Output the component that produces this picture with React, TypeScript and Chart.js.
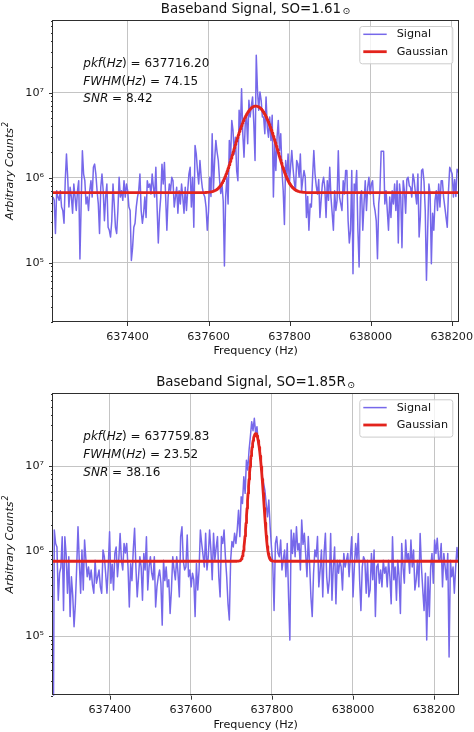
import React, { useEffect, useRef } from 'react';
import { Chart, registerables } from 'chart.js';

Chart.register(...registerables);

const FONT = '"DejaVu Sans", "Liberation Sans", sans-serif';

// Gaussian fit results for the two solar-offset observations
const pkfTop = 637716.2;
const fwhmTop = 74.15;
const snrTop = 8.42;
const baseTop = 6.65e5;
const peakTop = 6.95e6;

const pkfBot = 637759.83;
const fwhmBot = 23.52;
const snrBot = 38.16;
const baseBot = 7.6e5;
const peakBot = 2.4e7;

// frequency window centred on each fitted peak (Hz)
const spanHz = 1000;
const xTicks = [637400, 637600, 637800, 638000, 638200];
const yMajor = [1e5, 1e6, 1e7];
const yMin = 2.0e4;
const yMax = 7.15e7;

// baseband power spectra, in units of 1e5 counts^2, evenly spaced over the window
const signalTop = [
  5.9, 5.4, 2.2, 7.0, 5.9, 5.4, 7.0, 4.5, 4.1, 2.9,
  9.2, 18.9, 10.1, 4.5, 7.7, 5.9, 3.8, 8.4, 5.9, 4.1,
  7.0, 9.2, 1.1, 4.9, 20.7, 11.0, 9.2, 4.9, 5.9, 4.1,
  7.0, 9.2, 5.9, 13.2, 14.4, 11.0, 7.0, 4.9, 2.2, 7.7,
  11.0, 7.0, 3.1, 5.9, 8.4, 2.6, 2.4, 2.0, 3.1, 8.4,
  4.9, 2.6, 2.2, 4.1, 10.1, 5.9, 7.0, 5.4, 9.2, 5.9,
  8.4, 7.0, 4.5, 4.1, 1.06, 1.5, 2.6, 2.9, 4.5, 5.9,
  7.0, 11.0, 4.1, 2.9, 3.8, 5.9, 3.4, 9.2, 7.7, 8.4,
  6.4, 11.0, 7.7, 5.9, 13.2, 4.5, 1.7, 3.8, 5.9, 14.4,
  8.4, 15.1, 5.9, 2.4, 5.9, 8.4, 7.0, 10.1, 9.2, 4.5,
  5.9, 7.7, 3.8, 7.0, 4.9, 8.4, 5.9, 3.8, 7.7, 4.1,
  7.0, 11.0, 13.2, 4.5, 10.1, 2.6, 23.9, 19.0, 12.0, 8.4,
  15.9, 10.1, 7.5, 6.4, 5.9, 4.5, 2.4, 4.0, 10.1, 6.0,
  32.8, 7.0, 15.9, 27.4, 20.0, 15.9, 9.5, 6.5, 8.4, 5.3,
  0.91, 5.9, 10.1, 4.9, 27.4, 15.9, 47.1, 35.9, 19.0, 29.9,
  12.1, 9.2, 61.9, 35.9, 111, 32.8, 17.4, 43.0, 51.6, 25.0,
  81.1, 51.6, 70.0, 88.9, 43.0, 15.9, 276, 106.6, 61.9, 101.8,
  81.1, 51.6, 51.6, 32.8, 88.9, 39.3, 29.9, 51.6, 27.4, 54.0,
  5.9, 25.0, 12.1, 30.0, 47.1, 20.8, 32.8, 12.0, 7.0, 2.8,
  15.9, 10.1, 19.0, 8.4, 13.2, 20.8, 13.0, 9.0, 7.0, 15.9,
  14.5, 10.1, 19.0, 7.0, 9.5, 12.1, 10.1, 3.4, 6.0, 2.4,
  4.9, 4.5, 10.1, 20.8, 11.0, 8.0, 6.4, 9.5, 3.4, 5.5,
  8.5, 10.1, 7.5,
  3.4, 9.2, 5.4, 13.2, 5.9, 3.8, 2.4, 7.0, 4.1, 5.4,
  20.7, 5.9, 4.9, 4.1, 9.2, 6.4, 12.1, 12.1, 3.1, 1.7,
  2.4, 12.1, 0.74, 8.4, 7.0, 12.1, 2.4, 0.89, 5.9, 7.0,
  2.4, 4.9, 9.2, 4.1, 7.7, 10.1, 6.4, 8.4, 9.2, 4.9,
  4.1, 3.1, 1.11, 4.9, 7.0, 20.4, 20.4, 20.4, 4.9, 7.0,
  4.1, 2.4, 5.9, 3.4, 7.0, 4.9, 8.4, 4.1, 9.2, 1.7,
  8.4, 5.9, 1.5, 9.2, 7.0, 3.8, 9.6, 10.1, 8.0, 7.7, 5.9,
  11.0, 9.2, 6.5, 4.9, 11.0, 2.0, 3.4, 12.1, 12.6, 9.0, 4.1, 0.62,
  2.4, 8.4, 6.4, 0.97, 3.8, 2.4, 5.4, 7.0, 4.1, 8.4,
  4.5, 9.2, 9.2, 5.9, 4.5, 3.4, 2.6, 7.0, 13.2, 12.1,
  11.0, 5.9, 9.5, 6.0, 12.5, 11.5,
];

const signalBot = [
  0.01,
  17.7, 12.3, 11.2, 2.65, 5.5, 6.5, 14.7, 2.0, 14.7, 9.0,
  3.2, 8.6, 1.7, 5.0, 3.0, 1.29, 2.4, 6.5, 19.3, 7.5,
  3.2, 10.3, 3.5, 13.5, 8.0, 5.0, 6.5, 4.6, 6.0, 4.0,
  3.2, 7.8, 4.2, 5.0, 6.0, 3.8, 3.2, 10.3, 8.6, 5.5,
  3.2, 6.5, 16.9, 4.2, 7.0, 3.5, 9.4, 11.2, 5.0, 8.0,
  16.1, 7.8, 6.0, 12.3, 9.5, 12.3, 6.5, 2.2, 7.1, 4.5,
  10.3, 18.5, 6.5, 2.9, 5.0, 8.6, 6.5, 2.65, 9.4, 6.0,
  14.7, 3.5, 6.5, 8.6, 5.5, 4.6, 8.6, 2.2, 3.8, 5.0,
  6.0, 4.2, 1.35, 7.8, 4.5, 6.5, 3.8, 4.6, 1.85, 3.5,
  8.6, 6.0, 4.6, 8.6, 5.5, 2.9, 14.7, 19.3, 7.8, 6.0,
  6.5, 15.5, 5.0, 6.0, 3.8, 5.5, 4.6, 1.7, 7.15, 3.5,
  6.0, 17.7, 12.3, 9.0, 6.5, 16.2, 6.0, 8.6, 17.7, 10.3,
  4.6, 16.2, 7.8, 11.0, 14.8, 5.0, 2.9, 14.8, 12.3, 17.7,
  8.6, 5.0, 2.4, 1.55, 7.8, 13.0, 11.2, 16.2, 12.3, 17.7,
  30.3, 14.8, 43.5, 36.3, 74.9, 47.7, 117, 89.6, 154, 222,
  332, 260, 364, 242, 290, 185, 154, 107, 74.9, 62.5,
  52, 36.3, 25.3, 39.8, 19.3, 11.2, 7.15, 2.0, 12.3, 14.8,
  9.5, 8.6, 13.5, 6.0, 8.0, 10.3, 5.0, 12.3, 2.9, 0.9,
  17.7, 9.4, 16.2, 8.6, 19.3, 10.3, 12.3, 6.0, 23.2, 12.0,
  16.2, 9.4, 5.0, 14.8, 7.15, 2.9, 1.7, 5.5, 10.3, 8.6,
  14.8, 3.8, 6.0, 10.3, 2.9, 9.4, 16.2,
  5.0, 3.2, 4.6, 16.1, 2.65, 6.5, 11.2, 2.4, 7.8, 5.5,
  7.8, 6.5, 3.5, 9.4, 6.5, 7.8, 9.4, 5.0, 8.6, 14.7,
  2.9, 6.5, 12.3, 7.8, 16.1, 4.6, 2.0, 6.5, 8.6, 7.8,
  3.2, 7.8, 2.9, 3.5, 9.4, 4.6, 10.3, 1.7, 6.5, 7.1,
  4.2, 6.0, 3.8, 7.8, 5.5, 6.5, 3.8, 7.8, 5.0, 2.4,
  14.7, 4.6, 6.5, 2.65, 7.8, 5.0, 1.85, 12.3, 6.5, 4.2,
  13.5, 7.8, 9.4, 5.5, 13.5, 6.5, 10.3, 3.5, 4.6, 7.8,
  3.8, 16.1, 6.5, 3.5, 2.0, 5.5, 0.9, 5.0, 1.7, 6.5,
  9.4, 4.2, 13.5, 9.4, 14.2, 8.0, 7.8, 12.3, 3.8, 9.4,
  6.5, 4.6, 9.4, 0.57, 7.8, 5.0, 6.5, 3.2, 6.5, 11.0,
  7.5,
];

const UNIT = 1e5;
const SIGNAL_COLOR = 'rgb(118,104,234)';
const FIT_COLOR = '#e3231c';
const SUP: Record<number, string> = { 4: '\u2074', 5: '\u2075', 6: '\u2076', 7: '\u2077' };

type PanelProps = {
  signal: number[];
  pkf: number;
  fwhm: number;
  snr: number;
  base: number;
  peak: number;
  titleMain: string;
  canvasTop: number;
  plotTop: number;
  axisH: number;
};

function spectrumPoints(signal: number[], lo: number) {
  const step = spanHz / (signal.length - 1);
  return signal.map((v, i) => ({ x: lo + i * step, y: v * UNIT }));
}

function gaussianPoints(pkf: number, fwhm: number, base: number, peak: number, lo: number) {
  const n = 800;
  const pts: { x: number; y: number }[] = [];
  for (let i = 0; i <= n; i++) {
    const f = lo + (i * spanHz) / n;
    const d = f - pkf;
    pts.push({ x: f, y: base + (peak - base) * Math.exp((-4 * Math.LN2 * d * d) / (fwhm * fwhm)) });
  }
  return pts;
}

function drawMixed(ctx: CanvasRenderingContext2D, parts: [string, boolean][], x: number, y: number, size: number) {
  let cx = x;
  for (const [txt, ital] of parts) {
    ctx.font = `${ital ? 'italic ' : ''}${size}px ${FONT}`;
    ctx.fillText(txt, cx, y);
    cx += ctx.measureText(txt).width;
  }
}

function SpectrumPanel(props: PanelProps) {
  const ref = useRef<HTMLCanvasElement | null>(null);

  useEffect(() => {
    const canvas = ref.current;
    if (!canvas) return;
    const { signal, pkf, fwhm, snr, base, peak, titleMain, plotTop, axisH } = props;
    const lo = pkf - spanHz / 2;
    const hi = pkf + spanHz / 2;

    const decor = {
      id: 'decor',
      afterDraw(chart: Chart) {
        const ctx = chart.ctx;
        const ca = chart.chartArea;
        const xs = chart.scales.x;
        const ys = chart.scales.y;
        ctx.save();

        // tick marks
        ctx.strokeStyle = '#333';
        ctx.lineWidth = 1;
        ctx.beginPath();
        for (const v of xTicks) {
          const px = Math.round(xs.getPixelForValue(v)) + 0.5;
          ctx.moveTo(px, ca.bottom);
          ctx.lineTo(px, ca.bottom + 4);
        }
        for (let e = 4; e <= 7; e++) {
          for (let k = 1; k <= 9; k++) {
            const v = k * Math.pow(10, e);
            if (v < yMin || v > yMax) continue;
            const py = Math.round(ys.getPixelForValue(v)) + 0.5;
            ctx.moveTo(ca.left - (k === 1 ? 4 : 2), py);
            ctx.lineTo(ca.left, py);
          }
        }
        ctx.stroke();

        // axes frame
        ctx.strokeStyle = '#2e2e2e';
        ctx.strokeRect(Math.round(ca.left) - 0.5, Math.round(ca.top) + 0.5,
          Math.round(ca.right - ca.left) + 1, Math.round(ca.bottom - ca.top) - 1);

        ctx.fillStyle = '#111';
        ctx.textAlign = 'left';
        ctx.textBaseline = 'alphabetic';

        // title with solar-radius subscript
        const cxm = (ca.left + ca.right) / 2;
        ctx.font = `13.4px ${FONT}`;
        const wMain = ctx.measureText(titleMain).width;
        ctx.font = `9.4px ${FONT}`;
        const wSub = ctx.measureText('\u2299').width;
        const x0 = cxm - (wMain + 1.5 + wSub) / 2;
        ctx.font = `13.4px ${FONT}`;
        ctx.fillText(titleMain, x0, ca.top - 7);
        ctx.font = `9.4px ${FONT}`;
        ctx.textBaseline = 'middle';
        ctx.fillText('\u2299', x0 + wMain + 1.5, ca.top - 8);
        ctx.textBaseline = 'alphabetic';

        // fit annotations
        const ax = ca.left + 30.3;
        drawMixed(ctx, [['pkf', true], ['(', false], ['Hz', true], [')', false], [' = ' + pkf.toFixed(2), false]], ax, ca.top + 47, 12);
        drawMixed(ctx, [['FWHM', true], ['(', false], ['Hz', true], [')', false], [' = ' + fwhm.toFixed(2), false]], ax, ca.top + 64.7, 12);
        drawMixed(ctx, [['SNR', true], [' = ' + snr.toFixed(2), false]], ax, ca.top + 82.2, 12);

        // x axis title
        ctx.font = `11.2px ${FONT}`;
        ctx.textAlign = 'center';
        ctx.fillText('Frequency (Hz)', cxm, ca.bottom + 31.9);

        // y axis title
        ctx.save();
        ctx.translate(12.7, (ca.top + ca.bottom) / 2);
        ctx.rotate(-Math.PI / 2);
        ctx.textAlign = 'left';
        ctx.font = `italic 11.2px ${FONT}`;
        const yl = 'Arbitrary Counts';
        const w1 = ctx.measureText(yl).width;
        ctx.font = `italic 8px ${FONT}`;
        const w2 = ctx.measureText('2').width;
        const sx = -(w1 + 0.8 + w2) / 2;
        ctx.font = `italic 11.2px ${FONT}`;
        ctx.fillText(yl, sx, 0);
        ctx.font = `italic 8px ${FONT}`;
        ctx.fillText('2', sx + w1 + 0.8, -4.6);
        ctx.restore();

        // legend
        const bw = 93;
        const bh = 37.3;
        const bx = ca.right - 6 - bw;
        const by = ca.top + 6;
        ctx.beginPath();
        ctx.roundRect(bx + 0.5, by + 0.5, bw, bh, 2.5);
        ctx.fillStyle = 'rgba(255,255,255,0.8)';
        ctx.fill();
        ctx.strokeStyle = '#cccccc';
        ctx.lineWidth = 1;
        ctx.stroke();
        const rows: [string, string, number][] = [
          ['Signal', SIGNAL_COLOR, 1.5],
          ['Gaussian', FIT_COLOR, 2.8],
        ];
        rows.forEach(([label, color, lw], i) => {
          const ry = by + 8.3 + i * 17.4;
          ctx.beginPath();
          ctx.strokeStyle = color;
          ctx.lineWidth = lw;
          ctx.moveTo(bx + 4, ry);
          ctx.lineTo(bx + 27.4, ry);
          ctx.stroke();
          ctx.fillStyle = '#111';
          ctx.font = `11.2px ${FONT}`;
          ctx.textAlign = 'left';
          ctx.textBaseline = 'middle';
          ctx.fillText(label, bx + 37.4, ry);
        });

        ctx.restore();
      },
    };

    const chart = new Chart(canvas, {
      type: 'line',
      data: {
        datasets: [
          {
            label: 'Gaussian',
            data: gaussianPoints(pkf, fwhm, base, peak, lo),
            borderColor: FIT_COLOR,
            borderWidth: 2.8,
            pointRadius: 0,
            tension: 0,
            fill: false,
            borderJoinStyle: 'round',
          },
          {
            label: 'Signal',
            data: spectrumPoints(signal, lo),
            borderColor: SIGNAL_COLOR,
            borderWidth: 1.5,
            pointRadius: 0,
            tension: 0,
            fill: false,
            borderJoinStyle: 'round',
          },
        ],
      },
      options: {
        responsive: false,
        devicePixelRatio: 1,
        animation: false,
        events: [],
        layout: { padding: { left: 0, right: 15.7, top: plotTop, bottom: 0 } },
        plugins: {
          legend: { display: false },
          tooltip: { enabled: false },
          title: { display: false },
        },
        scales: {
          x: {
            type: 'linear',
            min: lo,
            max: hi,
            bounds: 'data',
            afterBuildTicks: (s: any) => {
              s.ticks = xTicks.map((v) => ({ value: v }));
            },
            afterFit: (s: any) => {
              s.height = axisH;
              s.paddingLeft = 0;
              s.paddingRight = 0;
            },
            grid: { color: '#c4c4c4', lineWidth: 1, drawTicks: false },
            border: { display: false },
            ticks: {
              color: '#1a1a1a',
              font: { family: FONT, size: 11.2 },
              padding: 8,
              maxRotation: 0,
              autoSkip: false,
              callback: (v: any) => String(v),
            },
          },
          y: {
            type: 'logarithmic',
            min: yMin,
            max: yMax,
            bounds: 'data',
            afterBuildTicks: (s: any) => {
              s.ticks = yMajor.map((v) => ({ value: v }));
            },
            afterFit: (s: any) => {
              s.width = 53;
              s.paddingTop = 0;
              s.paddingBottom = 0;
            },
            grid: { color: '#c4c4c4', lineWidth: 1, drawTicks: false },
            border: { display: false },
            ticks: {
              color: '#1a1a1a',
              font: { family: FONT, size: 11.2 },
              padding: 9,
              autoSkip: false,
              callback: (v: any) => '10' + SUP[Math.round(Math.log10(Number(v)))],
            },
          },
        },
      },
      plugins: [decor],
    } as any);

    return () => chart.destroy();
  }, []);

  return (
    <canvas
      ref={ref}
      width={474}
      height={366}
      style={{ position: 'absolute', left: 0, top: props.canvasTop, width: 474, height: 366 }}
    />
  );
}

export default function App() {
  return (
    <div style={{ position: 'absolute', left: 0, top: 0, width: 474, height: 732, background: '#fff' }}>
      <SpectrumPanel
        signal={signalTop}
        pkf={pkfTop}
        fwhm={fwhmTop}
        snr={snrTop}
        base={baseTop}
        peak={peakTop}
        titleMain="Baseband Signal, SO=1.61"
        canvasTop={0}
        plotTop={20}
        axisH={44}
      />
      <SpectrumPanel
        signal={signalBot}
        pkf={pkfBot}
        fwhm={fwhmBot}
        snr={snrBot}
        base={baseBot}
        peak={peakBot}
        titleMain="Baseband Signal, SO=1.85R"
        canvasTop={366}
        plotTop={27.3}
        axisH={36.3}
      />
    </div>
  );
}
